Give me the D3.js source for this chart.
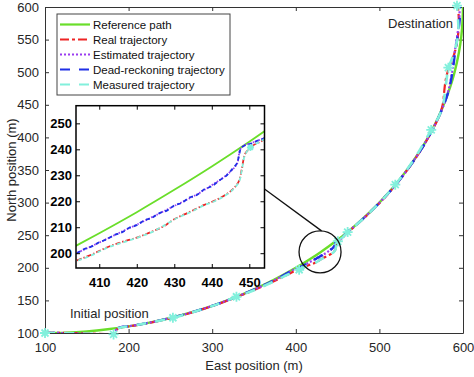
<!DOCTYPE html>
<html>
<head>
<meta charset="utf-8">
<script src="https://cdn.jsdelivr.net/npm/d3@7"></script>
<style>
body{margin:0;background:#fff;}
svg{font-family:"Liberation Sans",Arial,Helvetica,sans-serif;}
</style>
</head>
<body>
<div id="graph"></div>
<script>
const width = 474, height = 377;

// axis ticks
const xTicks = [100, 200, 300, 400, 500, 600];
const yTicks = [100, 150, 200, 250, 300, 350, 400, 450, 500, 550, 600];
const insetXTicks = [410, 420, 430, 440, 450];
const insetYTicks = [200, 210, 220, 230, 240, 250];

const seriesNames = ["Reference path", "Real trajectory", "Estimated trajectory", "Dead-reckoning trajectory", "Measured trajectory"];

// [east, north] in metres
const referencePath = [[100,100],[125,100.6],[150,102.5],[175,105.7],[200,110.1],[225,115.9],[250,123.0],[275,131.6],[300,141.7],[325,153.5],[350,167.0],[375,182.4],[400,200],[404,203.0],[410,207.7],[420,215.8],[430,224.4],[440,233.4],[450,242.9],[455,247.9],[460,253.0],[475,269.3],[500,300],[525,336.6],[550,382.1],[565,416.2],[575,443.9],[585,478.5],[590,500.5],[595,529.5],[598,555.3],[599.5,580],[600,600]];

const realTrajectory = [[100,100],[115,100.3],[130,100],[145,99.4],[160,98.8],[172,98.4],[180,98.6],[184,101],[186,105.8],[190,108.4],[200,110],[225,115.6],[250,122.7],[275,131.2],[300,141.3],[325,152.9],[350,165.8],[375,180],[390,189.5],[398,194.5],
  [404,197.2],[408,199.5],[412,202.2],[416,204.3],[420,206.0],[424,208.3],[427,210.2],[430,213.1],[434,215.8],[438,218.6],[441,220.4],[444,222.8],[446,225.2],[447.3,228],[448,232.4],[448.9,238.3],[450,240.2],[451,241.5],[452.5,242.6],[454.3,244.1],
  [460,252],[475,268.6],[500,299.2],[525,335.8],[550,381.2],[565,415.3],[572,434],[576,452],[577.5,470],[579,486],[581.5,500],[585,512],[590,530],[594,556],[595,580],[594,600]];

const estimatedTrajectory = [[100,100],[120,100],[140,99.2],[155,98],[165,97.6],[175,97.8],[181,98.6],[184,102.2],[186,106.5],[190,108.8],[200,110.4],[225,116],[250,123.1],[275,131.6],[300,141.7],[325,153.5],[350,166.7],[375,181.5],[390,192],[398,197.7],
  [404,200.2],[410,204.1],[416,208.3],[420,211],[426,215.3],[430,218.2],[436,222.6],[440,226.2],[444,230.2],[446.7,234.4],[447.6,240],[449,241.8],[450.3,242.2],[452,243.3],[454.3,244.6],
  [460,252.7],[475,269],[500,299.7],[525,336.2],[550,381.7],[565,416],[575,443.5],[582,469],[585.5,490],[588,510],[590,530],[593,555],[595.5,580],[596,602]];

const deadReckoning = [[100,100],[120,99.8],[140,98.8],[155,97.6],[165,97.3],[175,97.6],[181,98.5],[184,102],[186,106.4],[190,108.7],[200,110.4],[225,116],[250,123.1],[275,131.5],[300,141.6],[325,153.4],[350,166.6],[375,181.4],[390,191.8],[398,197.5],
  [404,200.0],[406,201.6],[408,202.6],[410,204.2],[412,205.4],[414,207.0],[416,208.0],[418,209.8],[420,210.8],[422,212.6],[424,213.6],[426,215.4],[428,216.4],[430,218.4],[432,219.4],[434,221.4],[436,222.4],[438,224.6],[440,225.8],[442,228.0],[444,230.0],[445.5,232.5],[446.7,234.6],[447.3,238],[447.8,240.5],[449,241.6],[450.3,242.1],[452,243.2],[454.3,244.5],
  [460,252.6],[475,268.9],[500,299.6],[525,336.2],[550,381.6],[565,415.8],[575,443.2],[582,468],[586,490],[588.5,510],[590.5,530],[593.5,555],[596,580],[596.5,602]];

const measuredTrajectory = [[100,100],[120,99.8],[140,99.3],[160,98.6],[182,97.8],[185,103],[187,106.8],[192,108.8],[200,110.3],[225,115.8],[253,123.4],[275,131.3],[300,141.4],[329,155.6],[350,165.6],[375,179.8],[390,189.3],[398,194.2],
  [404,197.0],[408,199.2],[412,202.0],[416,204.0],[420,205.9],[424,208.1],[427,210.4],[430,213.0],[434,215.6],[438,218.5],[441,220.2],[444,222.6],[446,225.0],[447.3,227.6],[448,232],[448.9,238],[450.3,240.7],[452,242.3],[454.3,244.2],
  [462,254.8],[475,268.8],[500,299.4],[519,327.5],[540,363.5],[562,411.5],[572,434.5],[576.5,452],[578.5,470],[580.5,490],[582.5,507],[586,518],[590.4,534.7],[594.4,560],[594,582],[592.8,602]];

const measuredMarks = [[100,100],[182,97.8],[253,123.4],[329,155.6],[404,197.0],[450.3,240.7],[462,254.8],[519,327.5],[562,411.5],[582.5,507],[592.8,602]];

const zoomCentre = [429, 224.4];

const seriesData = [referencePath, realTrajectory, estimatedTrajectory, deadReckoning, measuredTrajectory];
const colors = ["#6ade2a", "#ee2424", "#9a3cf0", "#1f2fe6", "#82f0dc"];
const dashes = [null, "9,3,3,3", "2,2", "10,9", "10,9"];
const widths = [2.4, 2.2, 2.2, 2.4, 2.6];

let svg = d3.select("#graph").append("svg").
attr("width", width).
attr("height", height);

const x = d3.scaleLinear().domain([100, 600]).range([45, 463]);
const y = d3.scaleLinear().domain([100, 600]).range([333, 7]);

svg.append("clipPath").attr("id", "mainClip").append("rect").
attr("x", 45).attr("y", 7).attr("width", 418).attr("height", 326);

// main axes (ticks inside, box on)
const axisColor = "#333";
function styleAxis(g, hideText) {
  g.select(".domain").attr("stroke", axisColor);
  g.selectAll(".tick line").attr("stroke", axisColor);
  g.selectAll(".tick text").attr("fill", "#262626").style("font-size", "13px");
  if (hideText) g.selectAll(".tick text").remove();
}
svg.append("g").attr("transform", "translate(0,333)").
call(d3.axisBottom(x).tickValues(xTicks).tickSizeInner(-4).tickSizeOuter(0).tickPadding(10)).
call(g => styleAxis(g, false));
svg.append("g").attr("transform", "translate(0,7)").
call(d3.axisTop(x).tickValues(xTicks).tickSizeInner(-4).tickSizeOuter(0)).
call(g => styleAxis(g, true));
svg.append("g").attr("transform", "translate(45,0)").
call(d3.axisLeft(y).tickValues(yTicks).tickSizeInner(-4).tickSizeOuter(0).tickPadding(6)).
call(g => styleAxis(g, false));
svg.append("g").attr("transform", "translate(463,0)").
call(d3.axisRight(y).tickValues(yTicks).tickSizeInner(-4).tickSizeOuter(0)).
call(g => styleAxis(g, true));

svg.append("text").attr("x", 254).attr("y", 370).attr("text-anchor", "middle").
style("font-size", "13px").attr("fill", "#262626").text("East position (m)");
svg.append("text").attr("transform", "translate(16,170) rotate(-90)").attr("text-anchor", "middle").
style("font-size", "13px").attr("fill", "#262626").text("North position (m)");

// trajectories
const mainLine = d3.line().x(d => x(d[0])).y(d => y(d[1])).curve(d3.curveCatmullRom.alpha(0.5));
const plot = svg.append("g").attr("clip-path", "url(#mainClip)");
seriesData.forEach((s, i) => {
  plot.append("path").datum(s).
  attr("d", mainLine).
  attr("fill", "none").
  attr("stroke", colors[i]).
  attr("stroke-width", widths[i]).
  attr("stroke-dasharray", dashes[i]);
});

function star(g, px, py, r) {
  g.append("path").
  attr("d", `M${px - r},${py}L${px + r},${py}M${px},${py - r}L${px},${py + r}` +
  `M${px - r * 0.7},${py - r * 0.7}L${px + r * 0.7},${py + r * 0.7}M${px - r * 0.7},${py + r * 0.7}L${px + r * 0.7},${py - r * 0.7}`).
  attr("stroke", colors[4]).attr("stroke-width", 1.8).attr("fill", "none");
}
const marks = svg.append("g");
measuredMarks.forEach(d => star(marks, x(d[0]), y(d[1]), 5));

svg.append("text").attr("x", 388).attr("y", 28).style("font-size", "13px").attr("fill", "#262626").text("Destination");
svg.append("text").attr("x", 70).attr("y", 318).style("font-size", "13px").attr("fill", "#262626").text("Initial position");

// zoom circle and connector
const cx = x(zoomCentre[0]), cy = y(zoomCentre[1]), cr = 21;
svg.append("circle").attr("cx", cx).attr("cy", cy).attr("r", cr).
attr("fill", "none").attr("stroke", "#111").attr("stroke-width", 1.3);

// inset
const xi = d3.scaleLinear().domain([403.8, 454.05]).range([76, 264.5]);
const yi = d3.scaleLinear().domain([194.3, 256.8]).range([268, 105.7]);

svg.append("line").attr("x1", 264.5).attr("y1", 189).attr("x2", cx + 1.5).attr("y2", cy - cr).
attr("stroke", "#111").attr("stroke-width", 1.3);

svg.append("rect").attr("x", 76).attr("y", 105.7).attr("width", 188.5).attr("height", 162.3).attr("fill", "#fff");
svg.append("clipPath").attr("id", "insetClip").append("rect").
attr("x", 76).attr("y", 105.7).attr("width", 188.5).attr("height", 162.3);

const insetLine = d3.line().x(d => xi(d[0])).y(d => yi(d[1])).curve(d3.curveCatmullRom.alpha(0.5));
const inset = svg.append("g").attr("clip-path", "url(#insetClip)");
seriesData.forEach((s, i) => {
  inset.append("path").datum(s).
  attr("d", insetLine).
  attr("fill", "none").
  attr("stroke", colors[i]).
  attr("stroke-width", 1.8).
  attr("stroke-dasharray", i === 0 ? null : (i === 2 ? "1.5,1.5" : (i === 1 ? "5,2,1.5,2" : "4,3")));
});
measuredMarks.filter(d => d[0] > 404 && d[0] < 454).forEach(d => star(inset, xi(d[0]), yi(d[1]), 3.5));

function styleInset(g, hideText) {
  g.select(".domain").remove();
  g.selectAll(".tick line").attr("stroke", "#000");
  g.selectAll(".tick text").attr("fill", "#000").style("font-size", "13px").style("font-weight", "bold");
  if (hideText) g.selectAll(".tick text").remove();
}
svg.append("g").attr("transform", "translate(0,268)").
call(d3.axisBottom(xi).tickValues(insetXTicks).tickSizeInner(-4).tickSizeOuter(0).tickPadding(10)).
call(g => styleInset(g, false));
svg.append("g").attr("transform", "translate(0,105.7)").
call(d3.axisTop(xi).tickValues(insetXTicks).tickSizeInner(-4).tickSizeOuter(0)).
call(g => styleInset(g, true));
svg.append("g").attr("transform", "translate(76,0)").
call(d3.axisLeft(yi).tickValues(insetYTicks).tickSizeInner(-4).tickSizeOuter(0).tickPadding(4)).
call(g => styleInset(g, false));
svg.append("g").attr("transform", "translate(264.5,0)").
call(d3.axisRight(yi).tickValues(insetYTicks).tickSizeInner(-4).tickSizeOuter(0)).
call(g => styleInset(g, true));
svg.append("rect").attr("x", 76).attr("y", 105.7).attr("width", 188.5).attr("height", 162.3).
attr("fill", "none").attr("stroke", "#000").attr("stroke-width", 1.5);

// legend
const legend = svg.append("g");
legend.append("rect").attr("x", 57).attr("y", 14).attr("width", 173).attr("height", 81).
attr("fill", "#fff").attr("stroke", "#444").attr("stroke-width", 1);
seriesNames.forEach((name, i) => {
  const ly = 24.5 + i * 15;
  legend.append("line").attr("x1", 60).attr("x2", 90).attr("y1", ly).attr("y2", ly).
  attr("stroke", colors[i]).attr("stroke-width", 2.2).attr("stroke-dasharray", dashes[i]);
  legend.append("text").attr("x", 93).attr("y", ly + 4).style("font-size", "11.5px").attr("fill", "#111").text(name);
});
</script>
</body>
</html>
